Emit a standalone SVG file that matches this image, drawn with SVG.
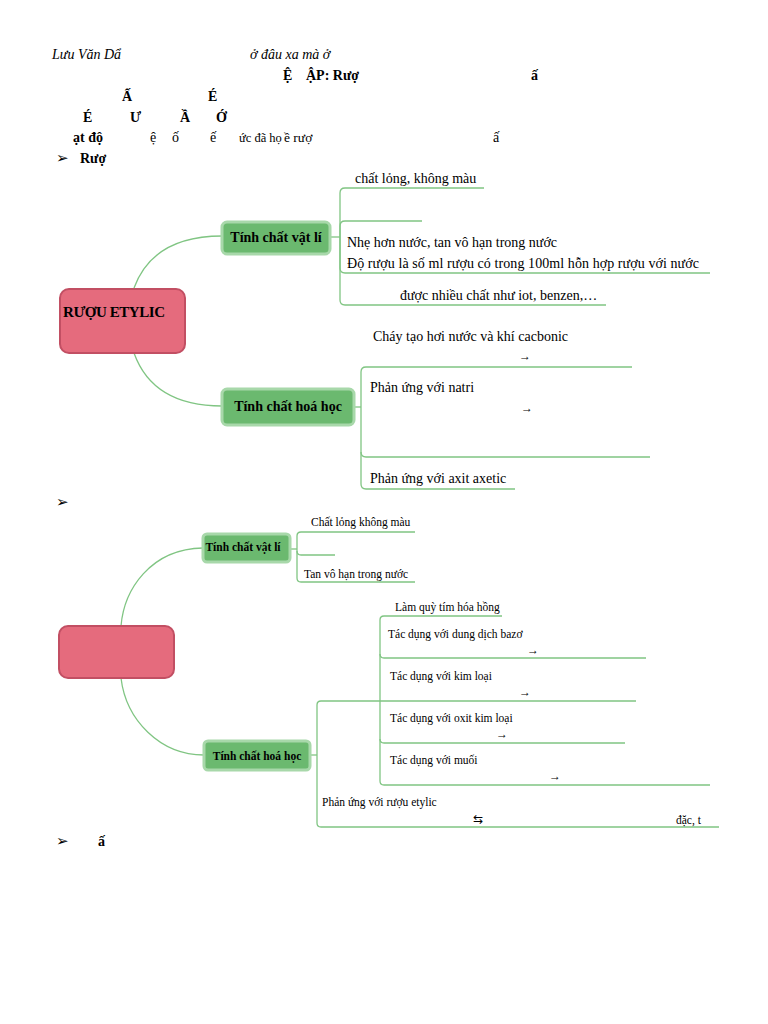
<svg xmlns="http://www.w3.org/2000/svg" width="768" height="1024" viewBox="0 0 768 1024">
<style>
text{font-family:"Liberation Serif","Times New Roman",serif;fill:#000}
.t{font-size:14px}
.b{font-weight:bold}
.i{font-style:italic}
.s{font-size:11.5px}
.a{font-size:12px}
.root{fill:#e56b7d;stroke:#c24f63;stroke-width:2}
.sub{fill:#6bb96f;stroke:#a8d8aa;stroke-width:3}
.c{fill:none;stroke:#80c583;stroke-width:1.3}
</style>
<rect width="768" height="1024" fill="#fff"/>
<g id="header">
<text class="t i" x="52" y="59">Lưu Văn Dẩ</text>
<text class="t i" x="250" y="59">ở đâu xa mà ở</text>
<text class="t b" x="283" y="80">Ệ</text>
<text class="t b" x="306" y="80">ẬP: Rượ</text>
<text class="t b" x="531" y="80">ấ</text>
<text class="t b" x="122" y="101">Ấ</text>
<text class="t b" x="208" y="101">É</text>
<text class="t b" x="83" y="122">É</text>
<text class="t b" x="130" y="122">Ư</text>
<text class="t b" x="180" y="122">Ầ</text>
<text class="t b" x="216" y="122">Ớ</text>
<text class="t b" x="73" y="142">ạt độ</text>
<text class="t" x="150" y="142">ệ</text>
<text class="t" x="172" y="142">ố</text>
<text class="t" x="210" y="142">ế</text>
<text x="239" y="142" font-size="12.5">ức đã họ</text>
<text x="284" y="142" font-size="13.5">ề rượ</text>
<text class="t" x="493" y="142">ấ</text>
<text font-size="15" x="56" y="163" font-family="DejaVu Sans">➢</text>
<text class="t b" x="80" y="163">Rượ</text>
<text font-size="15" x="56" y="507" font-family="DejaVu Sans">➢</text>
<text font-size="15" x="56" y="846" font-family="DejaVu Sans">➢</text>
<text class="t b" x="98" y="846">ấ</text>
</g>
<g id="connectors">
<path class="c" d="M134,288 C148,250 180,236 222,236"/>
<path class="c" d="M134,353 C148,392 180,406 222,406"/>
<path class="c" d="M330,237 H340"/>
<path class="c" d="M484,188 H345 Q340,188 340,193 V300 Q340,305 345,305 H606"/>
<path class="c" d="M422,221 H345 Q340,221 340,226 V268 Q340,273 345,273 H710"/>
<path class="c" d="M354,407 H361"/>
<path class="c" d="M632,367 H366 Q361,367 361,372 V484 Q361,489 366,489 H515"/>
<path class="c" d="M361,452 Q361,457 366,457 H650"/>
<path class="c" d="M121,626 C124,590 150,549 203,548"/>
<path class="c" d="M121,678 C126,720 160,755 204,755"/>
<path class="c" d="M290,549 H297"/>
<path class="c" d="M415,532 H301 Q297,532 297,536 V578 Q297,582 301,582 H415"/>
<path class="c" d="M297,551 Q297,555 301,555 H335"/>
<path class="c" d="M310,755 H317"/>
<path class="c" d="M636,701 H321 Q317,701 317,705 V823 Q317,827 321,827 H719"/>
<path class="c" d="M502,616 H384 Q380,616 380,620 V781 Q380,785 384,785 H710"/>
<path class="c" d="M380,654 Q380,658 384,658 H646"/>
<path class="c" d="M380,739 Q380,743 384,743 H625"/>
</g>
<g id="root1">
<rect class="root" x="60" y="289" width="125" height="64" rx="9"/>
<text class="b" x="63" y="317" font-size="15" textLength="102">RƯỢU ETYLIC</text>
</g>
<g id="vatli1">
<rect class="sub" x="222" y="222" width="108" height="32" rx="5"/>
<text class="t b" x="276" y="242" text-anchor="middle">Tính chất vật lí</text>
</g>
<g id="hoahoc1">
<rect class="sub" x="222" y="389" width="132" height="36" rx="5"/>
<text class="t b" x="288" y="411" text-anchor="middle">Tính chất hoá học</text>
</g>
<g id="vatli1-items">
<text class="t" x="355" y="183">chất lỏng, không màu</text>
<text class="t" x="347" y="247">Nhẹ hơn nước, tan vô hạn trong nước</text>
<text class="t" x="347" y="268" textLength="352">Độ rượu là số ml rượu có trong 100ml hỗn hợp rượu với nước</text>
<text class="t" x="400" y="300">được nhiều chất như iot, benzen,…</text>
</g>
<g id="hoahoc1-items">
<text class="t" x="373" y="341">Cháy tạo hơi nước và khí cacbonic</text>
<text class="a b" x="519" y="360">→</text>
<text class="t" x="370" y="392">Phản ứng với natri</text>
<text class="a b" x="521" y="412">→</text>
<text class="t" x="370" y="483">Phản ứng với axit axetic</text>
</g>
<g id="root2">
<rect class="root" x="59" y="626" width="115" height="52" rx="9"/>
</g>
<g id="vatli2">
<rect class="sub" x="203" y="534" width="87" height="28" rx="4"/>
<text class="s b" x="243" y="551" text-anchor="middle">Tính chất vật lí</text>
</g>
<g id="hoahoc2">
<rect class="sub" x="204" y="741" width="106" height="29" rx="4"/>
<text class="s b" x="257" y="760" text-anchor="middle">Tính chất hoá học</text>
</g>
<g id="vatli2-items">
<text class="s" x="311" y="526">Chất lỏng không màu</text>
<text class="s" x="304" y="578">Tan vô hạn trong nước</text>
</g>
<g id="hoahoc2-items">
<text class="s" x="395" y="611">Làm quỳ tím hóa hồng</text>
<text class="s" x="388" y="638">Tác dụng với dung dịch bazơ</text>
<text class="a b" x="527" y="654">→</text>
<text class="s" x="390" y="680">Tác dụng với kim loại</text>
<text class="a b" x="519" y="696">→</text>
<text class="s" x="390" y="722">Tác dụng với oxit kim loại</text>
<text class="a b" x="496" y="738">→</text>
<text class="s" x="390" y="764">Tác dụng với muối</text>
<text class="a b" x="549" y="780">→</text>
<text class="s" x="322" y="806">Phản ứng với rượu etylic</text>
<text class="a" x="473" y="823">⇆</text>
<text class="s" x="676" y="824">đặc, t</text>
</g>
</svg>
